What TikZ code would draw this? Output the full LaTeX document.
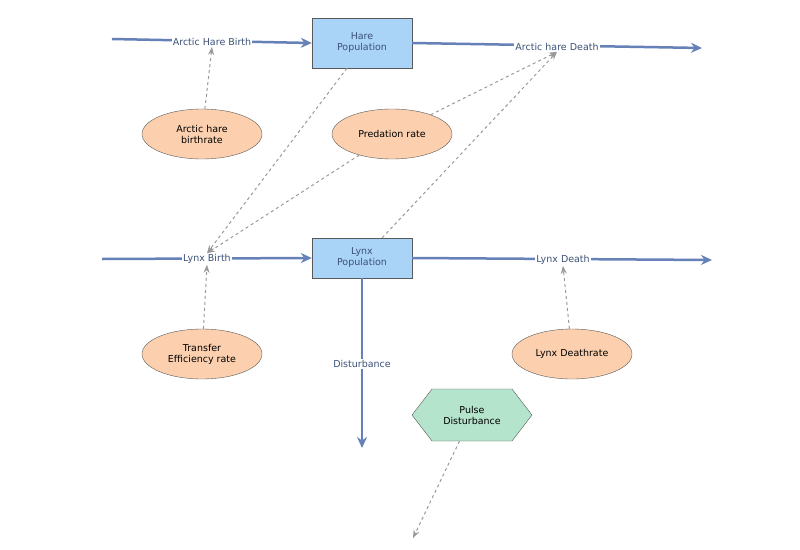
\documentclass[tikz,border=0pt]{standalone}
\usepackage{fontspec}
\setmainfont{DejaVu Sans}
\usetikzlibrary{shapes.geometric,arrows.meta}
\definecolor{flowc}{HTML}{6680B8}
\definecolor{stockc}{HTML}{AAD4F7}
\definecolor{auxc}{HTML}{FCD0AE}
\definecolor{pulsec}{HTML}{B4E4CC}
\definecolor{txtc}{HTML}{3C5278}
\tikzset{
  stock/.style={draw=black!65,fill=stockc,minimum width=100pt,minimum height=50pt,align=center,font=\fontsize{9.5}{11}\selectfont,text=txtc},
  aux/.style={ellipse,draw=black!65,fill=auxc,minimum width=120pt,minimum height=50pt,align=center,font=\fontsize{9.5}{11}\selectfont,inner sep=1pt},
  flowlbl/.style={fill=white,inner sep=1pt,font=\fontsize{9.5}{11}\selectfont,text=txtc},
  flow/.style={draw=flowc,line width=2.5pt,-{Stealth[length=11pt,width=10pt]}},
  link/.style={draw=black!40,dashed,line width=1pt,-{Stealth[length=8pt,width=6pt]}}
}
\begin{document}
\begin{tikzpicture}[x=1pt,y=-1pt]
\useasboundingbox (0,0) rectangle (800,549);
% stocks
\node[stock] (hare) at (362,43) {Hare\\Population};
\node[stock,minimum height=40pt] (lynx) at (362,258) {Lynx\\Population};
% auxiliaries
\node[aux] (hbr) at (202,134) {Arctic hare\\birthrate};
\node[aux] (pred) at (392,134) {Predation rate};
\node[aux] (teff) at (202,354) {Transfer\\Efficiency rate};
\node[aux] (ldr) at (572,354) {Lynx Deathrate};
% pulse
\draw[draw=black!65,fill=pulsec] (412,415) -- (432,389) -- (512,389) -- (532,415) -- (512,441) -- (432,441) -- cycle;
\node[align=center,font=\fontsize{9.5}{11}\selectfont,minimum width=120pt,minimum height=52pt] (pulse) at (472,415) {Pulse\\Disturbance};
% flows
\coordinate (hbs) at (112,39);
\coordinate (hde) at (702,48);
\coordinate (lbs) at (102,259);
\coordinate (lde) at (712,260);
\coordinate (dse) at (362,448);
\coordinate (pse) at (413,538);
\draw[flow] (hbs) -- (hare.west);
\draw[flow] (hare.east) -- (hde);
\draw[flow] (lbs) -- (lynx.west);
\draw[flow] (lynx.east) -- (lde);
\draw[flow] (lynx.south) -- (dse);
\node[flowlbl] (hb) at (212,42) {Arctic Hare Birth};
\node[flowlbl] (hd) at (557,47) {Arctic hare Death};
\node[flowlbl] (lb) at (207,259) {Lynx Birth};
\node[flowlbl] (ld) at (563,260) {Lynx Death};
\node[flowlbl] (dst) at (362,364) {Disturbance};
% links
\draw[link] (hbr) -- (hb.south);
\draw[link] (pred) -- (hd.south);
\draw[link] (lynx.north east) ++(-30,0) -- (hd.south);
\draw[link] (hare.south) ++(-15,0) -- (lb.north);
\draw[link] (pred) -- (lb.north);
\draw[link] (teff) -- (lb.south);
\draw[link] (ldr) -- (ld.south);
\draw[link] (pulse) -- (pse);
\end{tikzpicture}
\end{document}
